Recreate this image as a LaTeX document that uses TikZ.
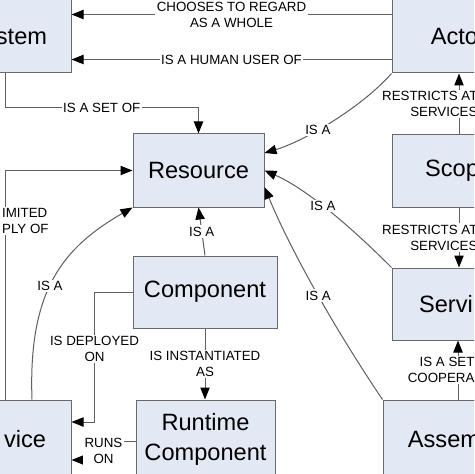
\documentclass[tikz,border=0pt]{standalone}
\usepackage{fontspec}
\setmainfont{Liberation Sans}
\usepackage{tikz}
\usetikzlibrary{calc,arrows.meta}
\definecolor{boxfill}{RGB}{227,233,244}
\definecolor{boxline}{RGB}{105,105,105}
\definecolor{linkgray}{RGB}{95,95,95}

\tikzset{
  box/.style={draw=boxline, fill=boxfill, line width=0.75pt, inner sep=0pt,
    align=center, font=\fontsize{17.7}{22.5}\selectfont},
  rel/.style={draw=linkgray, line width=0.75pt, -{Triangle[length=9pt,width=7pt,color=black]}},
  lbl/.style={fill=white, inner sep=1pt, align=center, text=black,
    font=\fontsize{10}{12}\selectfont}
}

\begin{document}
\begin{tikzpicture}
                [x=0.75pt,y=-0.75pt]
                
                \useasboundingbox (0,0) rectangle (474,474);
                \clip (0,0) rectangle (474,474);
                \fill[white] (0,0) rectangle (474,474);
                
                \node[box, minimum width=74.25pt, minimum height=54.75pt] (system) at (21.5, 36.5) {stem};
                \node[box, minimum width=93.75pt, minimum height=54.75pt] (actor) at (454.5, 36.5) {Acto};
                \node[box, minimum width=98.25pt, minimum height=54.75pt] (resource) at (198.5, 170.5) {Resource};
                \node[box, minimum width=90pt, minimum height=54pt] (scope) at (452, 171) {Scop};
                \node[box, minimum width=108pt, minimum height=54pt] (component) at (205, 292) {Component};
                \node[box, minimum width=81pt, minimum height=54pt] (service) at (446, 304) {Servi};
                \node[box, minimum width=69pt, minimum height=58.5pt] (device) at (25, 439) {vice};
                \node[box, minimum width=104.25pt, minimum height=58.5pt] (runtime) at (205.5, 439) {Runtime\\Component};
                \node[box, minimum width=91.5pt, minimum height=58.5pt] (assembly) at (444, 439) {Assem};
                
                \coordinate (sc1) at ($(scope.north)+(7,0)$);
                \coordinate (sc2) at ($(scope.south)+(7,0)$);
                \coordinate (as1) at ($(assembly.north)+(14,0)$);
                
                % top row
                \draw[rel] ($(actor.north west)+(0,15)$) -- node[lbl]{CHOOSES TO REGARD\\AS A WHOLE} ($(system.north east)+(0,15)$);
                \draw[rel] ($(actor.north west)+(0,60)$) -- node[lbl]{IS A HUMAN USER OF} ($(system.north east)+(0,60)$);
                \draw[rel] ($(system.south)+(-16.5,0)$) -- ++(0,34) -| node[lbl,pos=0.25]{IS A SET OF} (resource.north);
                
                % into resource
                \draw[rel] ($(device.north)+(-20,0)$) |- node[lbl,pos=0.39,anchor=west,xshift=-3.5pt,align=left]{IMITED\\PLY OF} (resource.west);
                \draw[rel] ($(device.north)+(7,0)$) .. controls +(-4,-110) and +(-69,40) .. (resource.south west) node[lbl,pos=0.45]{IS A};
                \draw[rel] (component.north) -- node[lbl]{IS A} (resource.south);
                \draw[rel] (actor.south west) .. controls +(-30,34) and +(40,-12) .. ($(resource.east)+(0,-17.5)$) node[lbl,pos=0.6]{IS A};
                \draw[rel] (service.north west) .. controls +(-60,-60) and +(30,13) .. (resource.east) node[lbl,pos=0.45]{IS A};
                \draw[rel] (assembly.north west) .. controls +(-42,-62) and +(28,68) .. ($(resource.east)+(0,16.5)$) node[lbl,pos=0.5]{IS A};
                
                % right column
                \draw[rel] (sc1) -- node[lbl,anchor=east,xshift=15.2pt,align=right]{RESTRICTS AT\\SERVICES} (sc1 |- actor.south);
                \draw[rel] (sc2) -- node[lbl,anchor=east,xshift=15.2pt,align=right]{RESTRICTS AT\\SERVICES} (sc2 |- service.north);
                \draw[rel] (as1) -- node[lbl,anchor=east,xshift=13.7pt,align=right]{IS A SET\\COOPERA} (as1 |- service.south);
                
                % bottom
                \draw[rel] (component.south) -- node[lbl]{IS INSTANTIATED\\AS} (component.south |- runtime.north);
                \draw[rel] (component.west) -- ++(-38,0) |- node[lbl,pos=0.22]{IS DEPLOYED\\ON} ($(device.east)+(0,-17)$);
                \draw[rel] ($(runtime.west)+(0,2)$) -- ++(-32,0) |- node[lbl,pos=0.25]{RUNS\\ON} ($(device.east)+(0,21)$);
\end{tikzpicture}
\end{document}
